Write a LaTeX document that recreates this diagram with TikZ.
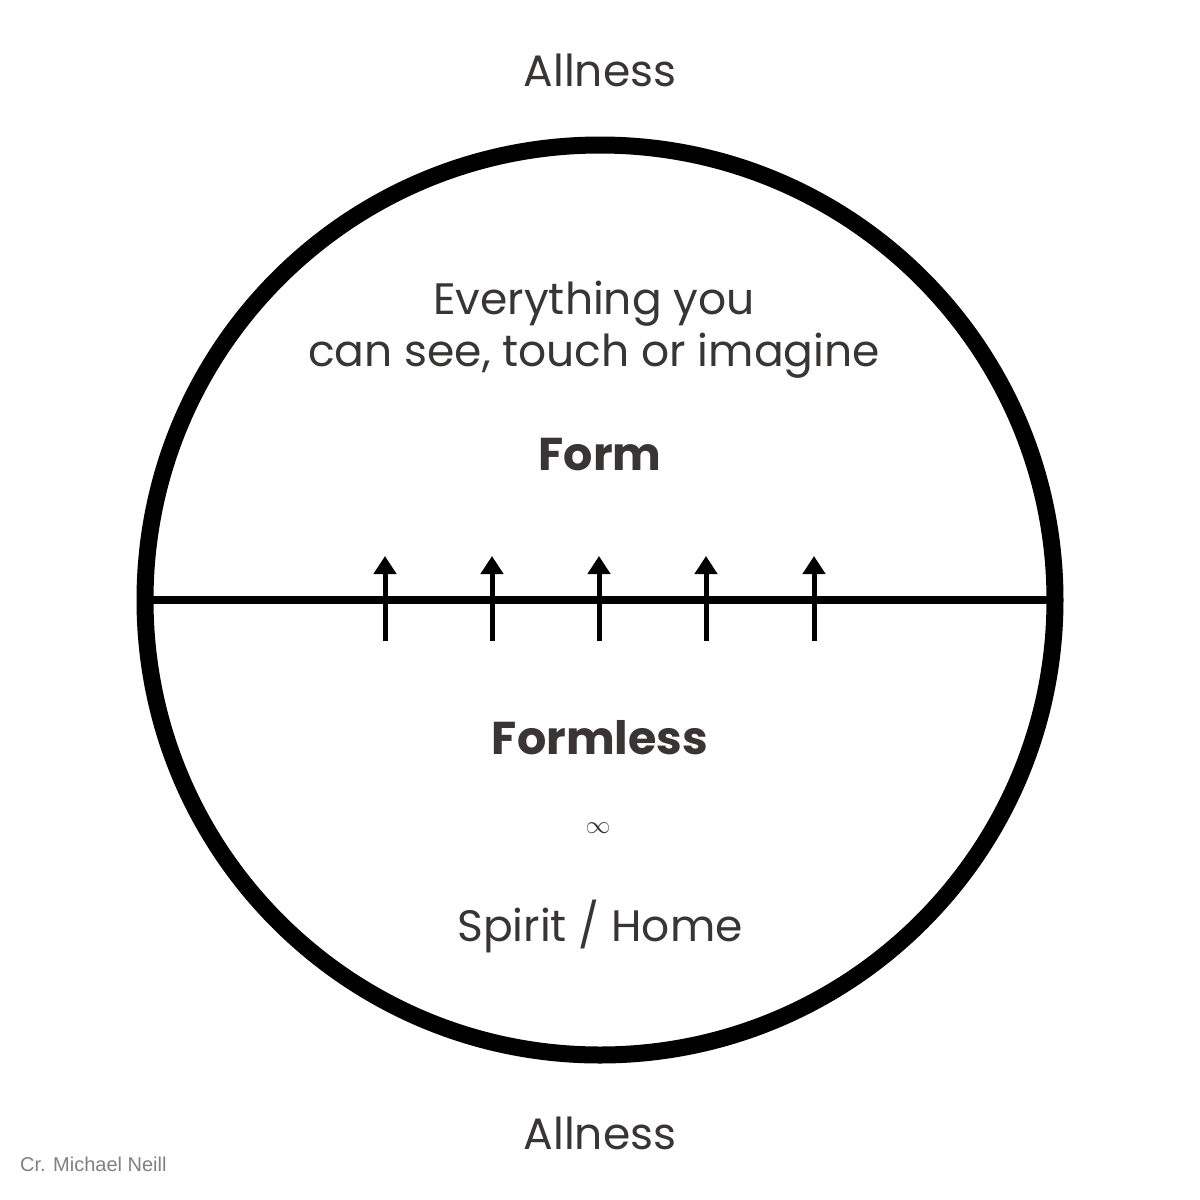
\documentclass[tikz,border=0pt]{standalone}
\usepackage{fontspec}
\setmainfont{Poppins}
\newfontfamily\credfont{Liberation Sans}
\usetikzlibrary{arrows.meta}
\definecolor{txt}{HTML}{3A3535}
\begin{document}
\begin{tikzpicture}[x=1pt,y=-1pt,
  lbl/.style={text=txt,font=\fontsize{44}{52}\selectfont,align=center,inner sep=0},
  bold/.style={text=txt,font=\fontsize{46}{52}\selectfont\bfseries,inner sep=0},
  up/.style={line width=5pt,-{Triangle[length=18pt,width=22pt]}}]
\useasboundingbox (0,0) rectangle (1200,1200);
\fill[white] (0,0) rectangle (1200,1200);
\draw[line width=17pt] (600,600) circle (455);
\coordinate (L) at (150,600);
\coordinate (R) at (1045,600);
\draw[line width=8pt,line cap=round] (L) -- (R);
\foreach \i/\x in {1/385,2/492,3/599,4/706,5/814}{
  \coordinate (b\i) at (\x,641);
  \coordinate (t\i) at (\x,556);
  \draw[up] (b\i) -- (t\i);
}
\node[lbl] (a1) at (600,70) {Allness};
\node[lbl] (a2) at (600,1133) {Allness};
\node[lbl] (ev) at (594,330) {Everything you\\can see, touch or imagine};
\node[bold] (form) at (600,455) {Form};
\node[bold] (fl) at (600,738) {Formless};
\node[text=txt,font=\fontsize{80}{80}\selectfont\bfseries,inner sep=0] (inf) at (598,828) {$\infty$};
\node[lbl] (sp) at (600,926) {Spirit / Home};
\node[text=gray,font=\credfont\fontsize{20}{24}\selectfont,anchor=west,inner sep=0] (cr) at (20,1164) {Cr. Michael Neill};
\end{tikzpicture}
\end{document}
